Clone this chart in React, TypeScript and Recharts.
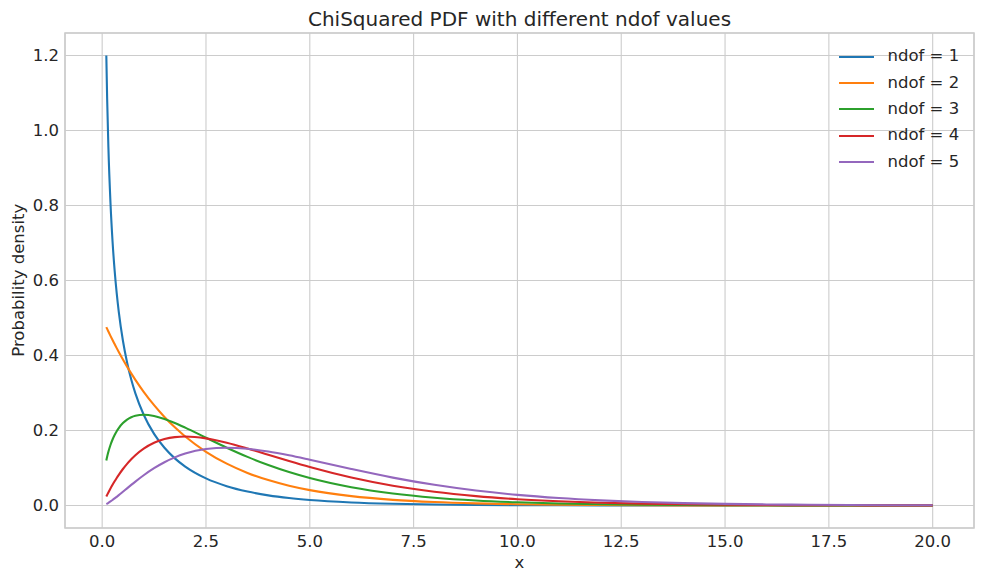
import {
  LineChart,
  Line,
  XAxis,
  YAxis,
  CartesianGrid,
  Legend,
  ReferenceArea,
} from "recharts";

const xs = [
  0.1, 0.12, 0.15, 0.2, 0.25, 0.3, 0.35, 0.4, 0.5, 0.6, 0.7, 0.8, 1, 1.25, 1.5,
  1.75, 2, 2.5, 3, 3.5, 4, 4.5, 5, 6, 7, 8, 9, 10, 11, 12, 13, 14, 15, 16, 17,
  18, 19, 20,
];

const ndof1 = [
  1.2, 1.0846, 0.9556, 0.8072, 0.7041, 0.6269, 0.5661, 0.5164, 0.4394, 0.3815,
  0.336, 0.299, 0.242, 0.191, 0.1539, 0.1257, 0.1038, 0.0723, 0.0514, 0.0371,
  0.027, 0.0198, 0.0146, 0.0081, 0.00455, 0.00258, 0.00148, 0.00085, 0.00049,
  0.00029, 0.00017, 0.0001, 0.00006, 0.00003, 0.00002, 0.00001, 0.00001, 0.0,
];

const ndof2 = [
  0.4756, 0.4709, 0.4639, 0.4524, 0.4412, 0.4304, 0.4197, 0.4094, 0.3894,
  0.3704, 0.3523, 0.3352, 0.3033, 0.2676, 0.2362, 0.2084, 0.1839, 0.1433,
  0.1116, 0.0869, 0.0677, 0.0527, 0.041, 0.0249, 0.0151, 0.0092, 0.0056,
  0.0034, 0.002, 0.0012, 0.00075, 0.00046, 0.00028, 0.00017, 0.0001, 0.00006,
  0.00004, 0.00002,
];

const ndof3 = [
  0.12, 0.1301, 0.1433, 0.1614, 0.176, 0.1881, 0.1981, 0.2066, 0.2197, 0.2289,
  0.2352, 0.2392, 0.242, 0.2387, 0.2308, 0.22, 0.2076, 0.1807, 0.1542, 0.1297,
  0.108, 0.0892, 0.0732, 0.0487, 0.0319, 0.0207, 0.0133, 0.0085, 0.0054,
  0.0034, 0.0022, 0.0014, 0.00085, 0.00053, 0.00033, 0.00021, 0.00013, 0.00008,
];

const ndof4 = [
  0.02378, 0.02825, 0.03479, 0.04524, 0.05516, 0.06455, 0.07345, 0.08187,
  0.09735, 0.11112, 0.12332, 0.13406, 0.15163, 0.16727, 0.17714, 0.18238,
  0.18394, 0.17907, 0.16735, 0.15205, 0.13534, 0.11857, 0.10261, 0.07468,
  0.05284, 0.03663, 0.025, 0.01684, 0.01124, 0.00744, 0.00488, 0.00319,
  0.00207, 0.00134, 0.00086, 0.00055, 0.00036, 0.00023,
];

const ndof5 = [
  0.004, 0.00521, 0.00717, 0.01076, 0.01467, 0.01881, 0.02311, 0.02754,
  0.03662, 0.04579, 0.05488, 0.06378, 0.08066, 0.09948, 0.1154, 0.12833,
  0.13837, 0.1506, 0.15418, 0.15131, 0.14398, 0.1338, 0.12204, 0.0973, 0.07437,
  0.05511, 0.03989, 0.02833, 0.01983, 0.0137, 0.00937, 0.00635, 0.00427,
  0.00285, 0.00189, 0.00125, 0.00082, 0.00054,
];

const xTicks = [0, 2.5, 5, 7.5, 10, 12.5, 15, 17.5, 20];
const yTicks = [0, 0.2, 0.4, 0.6, 0.8, 1.0, 1.2];

const series = [
  { key: "ndof1", name: "ndof = 1", color: "#1f77b4", values: ndof1 },
  { key: "ndof2", name: "ndof = 2", color: "#ff7f0e", values: ndof2 },
  { key: "ndof3", name: "ndof = 3", color: "#2ca02c", values: ndof3 },
  { key: "ndof4", name: "ndof = 4", color: "#d62728", values: ndof4 },
  { key: "ndof5", name: "ndof = 5", color: "#9467bd", values: ndof5 },
];

const data = xs.map((x, i) => {
  const row: Record<string, number> = { x };
  series.forEach((s) => {
    row[s.key] = s.values[i];
  });
  return row;
});

const X_DOMAIN: [number, number] = [-0.895, 20.995];
const Y_DOMAIN: [number, number] = [-0.06, 1.26];

const TEXT = "#262626";
const GRID = "#cccccc";
const FONT = 16.5;

const renderLegend = (props: any) => {
  const { payload = [] } = props;
  return (
    <div>
      {payload.map((entry: any) => (
        <div
          key={entry.value}
          style={{
            display: "flex",
            alignItems: "center",
            height: 26.3,
          }}
        >
          <svg width={35} height={4} style={{ marginRight: 13.5 }}>
            <line
              x1={0}
              y1={2}
              x2={35}
              y2={2}
              stroke={entry.color}
              strokeWidth={2.1}
            />
          </svg>
          <span
            style={{ fontSize: FONT, color: TEXT, lineHeight: "16.5px" }}
          >
            {entry.value}
          </span>
        </div>
      ))}
    </div>
  );
};

export default function App() {
  return (
    <div
      style={{
        position: "absolute",
        left: 0,
        top: 0,
        width: 984,
        height: 584,
        background: "#fff",
        fontFamily: "'DejaVu Sans', sans-serif",
        color: TEXT,
      }}
    >
      <div
        style={{
          position: "absolute",
          left: 65,
          top: 9,
          width: 909,
          textAlign: "center",
          fontSize: 20,
          lineHeight: "20px",
        }}
      >
        ChiSquared PDF with different ndof values
      </div>
      <LineChart
        width={984}
        height={584}
        data={data}
        margin={{ top: 33, right: 10, bottom: 0, left: 0 }}
      >
        <CartesianGrid stroke={GRID} strokeWidth={1.1} />
        <XAxis
          dataKey="x"
          type="number"
          domain={X_DOMAIN}
          allowDataOverflow
          ticks={xTicks}
          tickFormatter={(v: number) => v.toFixed(1)}
          height={56}
          axisLine={false}
          tickLine={false}
          tickSize={0}
          tickMargin={7}
          tick={{ fill: TEXT, fontSize: FONT }}
        />
        <YAxis
          type="number"
          domain={Y_DOMAIN}
          allowDataOverflow
          ticks={yTicks}
          tickFormatter={(v: number) => v.toFixed(1)}
          width={65}
          axisLine={false}
          tickLine={false}
          tickSize={0}
          tickMargin={6}
          tick={{ fill: TEXT, fontSize: FONT }}
        />
        <ReferenceArea
          x1={X_DOMAIN[0]}
          x2={X_DOMAIN[1]}
          y1={Y_DOMAIN[0]}
          y2={Y_DOMAIN[1]}
          fill="none"
          stroke={GRID}
          strokeWidth={1.6}
        />
        {series.map((s) => (
          <Line
            key={s.key}
            dataKey={s.key}
            name={s.name}
            stroke={s.color}
            strokeWidth={2.1}
            type="monotone"
            dot={false}
            isAnimationActive={false}
          />
        ))}
        <Legend
          layout="vertical"
          align="center"
          verticalAlign="middle"
          wrapperStyle={{ left: 839, top: 43.5, width: 140, height: 132 }}
          content={renderLegend}
        />
      </LineChart>
      <div
        style={{
          position: "absolute",
          left: 65,
          top: 555.3,
          width: 909,
          textAlign: "center",
          fontSize: FONT,
          lineHeight: "16.5px",
        }}
      >
        x
      </div>
      <div
        style={{
          position: "absolute",
          left: -81,
          top: 271.75,
          width: 200,
          height: 16.5,
          textAlign: "center",
          fontSize: FONT,
          lineHeight: "16.5px",
          transform: "rotate(-90deg)",
        }}
      >
        Probability density
      </div>
    </div>
  );
}
